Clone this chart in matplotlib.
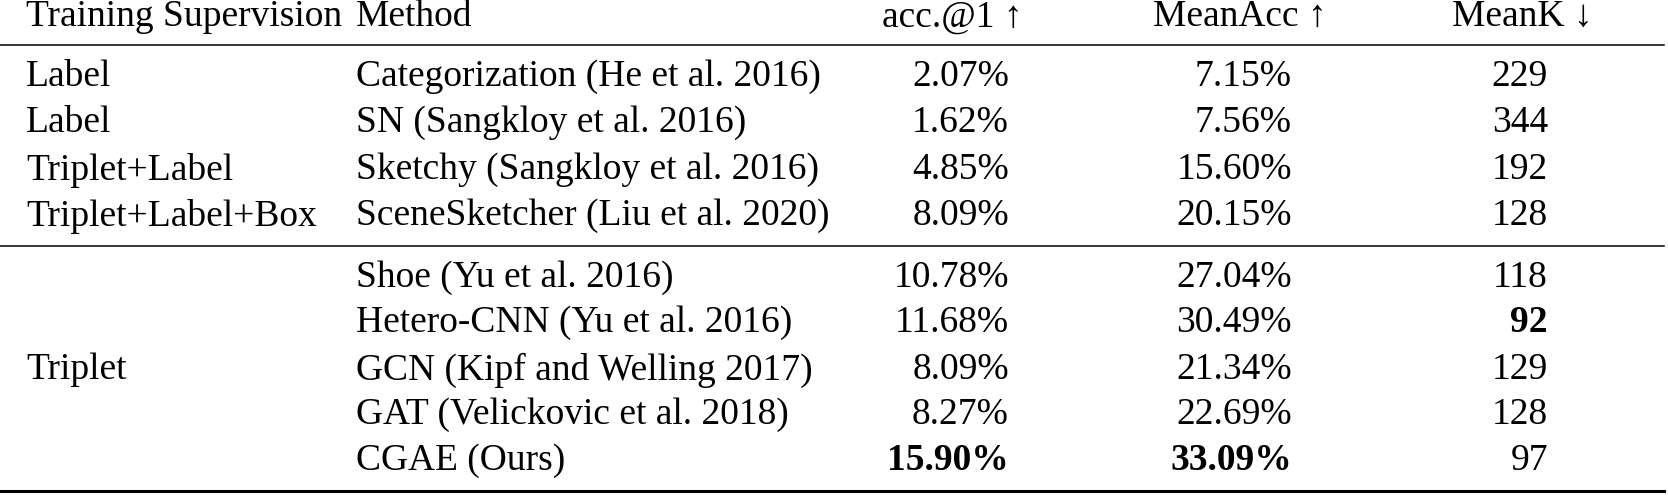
import matplotlib
matplotlib.use("Agg")
import matplotlib.pyplot as plt

supervision = ["Label", "Label", "Triplet+Label", "Triplet+Label+Box", "", "", "Triplet", "", ""]
methods = ["Categorization (He et al. 2016)", "SN (Sangkloy et al. 2016)", "Sketchy (Sangkloy et al. 2016)",
           "SceneSketcher (Liu et al. 2020)", "Shoe (Yu et al. 2016)", "Hetero-CNN (Yu et al. 2016)",
           "GCN (Kipf and Welling 2017)", "GAT (Velickovic et al. 2018)", "CGAE (Ours)"]
acc1 = ["2.07%", "1.62%", "4.85%", "8.09%", "10.78%", "11.68%", "8.09%", "8.27%", "15.90%"]
meanacc = ["7.15%", "7.56%", "15.60%", "20.15%", "27.04%", "30.49%", "21.34%", "22.69%", "33.09%"]
meank = ["229", "344", "192", "128", "118", "92", "129", "128", "97"]
headers = ["Training Supervision", "Method", "acc.@1 \u2191", "MeanAcc \u2191", "MeanK \u2193"]
bold_acc1, bold_meanacc, bold_meank = {8}, {8}, {5}

W, H = 1668, 496
fig = plt.figure(figsize=(W/100, H/100), dpi=100)
ax = fig.add_axes([0, 0, 1, 1])
ax.set_xlim(0, W); ax.set_ylim(H, 0); ax.axis("off")
plt.rcParams["font.family"] = ["Liberation Serif", "DejaVu Serif"]
fs = 27
row_y = [77, 123, 170, 216, 278, 323, 370, 415, 461]
hy = 17
ax.text(26, hy, headers[0], fontsize=fs, va="center", ha="left")
ax.text(356, hy, headers[1], fontsize=fs, va="center", ha="left")
ax.text(952, hy, headers[2], fontsize=fs, va="center", ha="center")
ax.text(1240, hy, headers[3], fontsize=fs, va="center", ha="center")
ax.text(1522, hy, headers[4], fontsize=fs, va="center", ha="center")
for i, y in enumerate(row_y):
    if supervision[i]:
        ax.text(26, y, supervision[i], fontsize=fs, va="center", ha="left")
    ax.text(356, y, methods[i], fontsize=fs, va="center", ha="left")
    ax.text(1009, y, acc1[i], fontsize=fs, va="center", ha="right",
            fontweight="bold" if i in bold_acc1 else "normal")
    ax.text(1292, y, meanacc[i], fontsize=fs, va="center", ha="right",
            fontweight="bold" if i in bold_meanacc else "normal")
    ax.text(1548, y, meank[i], fontsize=fs, va="center", ha="right",
            fontweight="bold" if i in bold_meank else "normal")
ax.plot([0, 1664], [45, 45], color="black", lw=1.1)
ax.plot([0, 1664], [246, 246], color="black", lw=1.1)
ax.plot([0, 1664], [491, 491], color="black", lw=2.2)
fig.savefig("out.png", dpi=100)
